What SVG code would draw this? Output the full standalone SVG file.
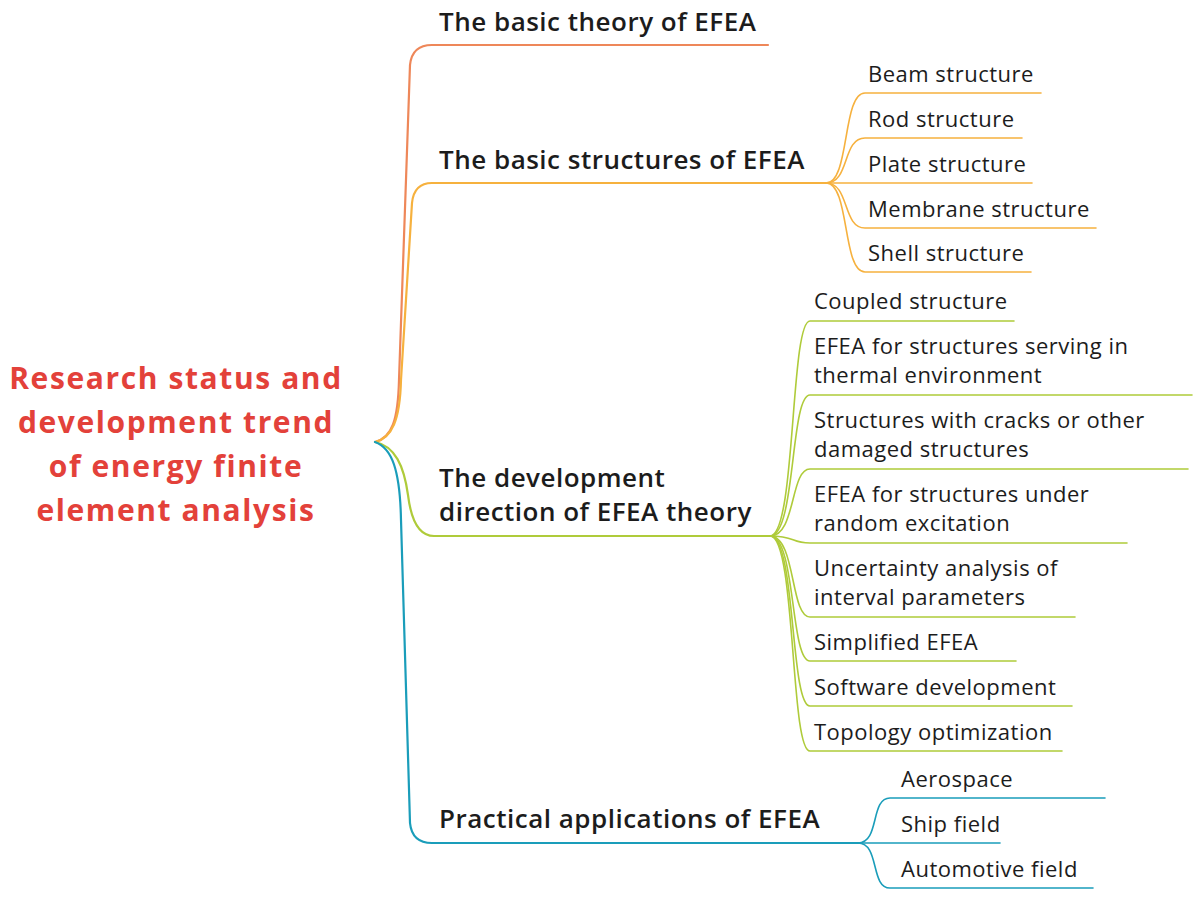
<svg xmlns="http://www.w3.org/2000/svg" width="1200" height="899" viewBox="0 0 1200 899">
<style>
.title{font-family:"Open Sans","Liberation Sans",sans-serif;font-weight:700;font-size:30px;letter-spacing:1.6px;fill:#E3413A;text-anchor:middle}
.main{font-family:"Open Sans","Liberation Sans",sans-serif;font-weight:600;font-size:26px;letter-spacing:0.5px;fill:#1c1c1c}
.sub{font-family:"Open Sans","Liberation Sans",sans-serif;font-weight:400;font-size:22px;letter-spacing:0.5px;fill:#1c1c1c}
path{fill:none;stroke-linecap:round}
.c1{stroke:#EE8759}
.c2{stroke:#F6B13E}
.c3{stroke:#AFCB3A}
.c4{stroke:#1A9DBA}
.m{stroke-width:2.2}
.s{stroke-width:1.6}
</style>
<rect width="1200" height="899" fill="#ffffff"/>
<g id="connectors">
<path class="c1 m" d="M375,442 C392,438 398,420 399,380 L410,65 Q412,45 432,45 L768,45"/>
<path class="c2 m" d="M375,442 C392,438 400,420 401,380 L412,203 Q414,183 432,183 L826,183"/>
<path class="c3 m" d="M375,442 C395,446 404,466 408,495 Q413,536 434,536 L770,536"/>
<path class="c4 m" d="M375,442 C392,448 400,470 401,520 L410,823 Q412,843 432,843 L858,843"/>
<path class="c2 s" d="M826,183 C850,183 842,93 865,93 L1041,93"/>
<path class="c2 s" d="M826,183 C850,183 842,138 865,138 L1022,138"/>
<path class="c2 s" d="M826,183 L1032,183"/>
<path class="c2 s" d="M826,183 C850,183 842,228 865,228 L1096,228"/>
<path class="c2 s" d="M826,183 C850,183 842,272 865,272 L1031,272"/>
<path class="c3 s" d="M770,536 C796,536 790,321 810,321 L1014,321"/>
<path class="c3 s" d="M770,536 C796,536 790,395 810,395 L1192,395"/>
<path class="c3 s" d="M770,536 C796,536 790,469 810,469 L1188,469"/>
<path class="c3 s" d="M770,536 C796,536 790,543 810,543 L1127,543"/>
<path class="c3 s" d="M770,536 C796,536 790,617 810,617 L1075,617"/>
<path class="c3 s" d="M770,536 C796,536 790,661 810,661 L1016,661"/>
<path class="c3 s" d="M770,536 C796,536 790,706 810,706 L1072,706"/>
<path class="c3 s" d="M770,536 C796,536 790,751 810,751 L1062,751"/>
<path class="c4 s" d="M858,843 C880,843 870,798 890,798 L1105,798"/>
<path class="c4 s" d="M858,843 L1000,843"/>
<path class="c4 s" d="M858,843 C880,843 870,888 890,888 L1093,888"/>
</g>
<g id="root">
<text class="title" x="176" y="389">Research status and</text>
<text class="title" x="176" y="433">development trend</text>
<text class="title" x="176" y="477">of energy finite</text>
<text class="title" x="176" y="521">element analysis</text>
</g>
<g id="n-basic-theory"><text class="main" x="439" y="31">The basic theory of EFEA</text></g>
<g id="n-basic-structures"><text class="main" x="439" y="169">The basic structures of EFEA</text></g>
<g id="n-development"><text class="main" x="439" y="487">The development</text><text class="main" x="439" y="521">direction of EFEA theory</text></g>
<g id="n-practical"><text class="main" x="439" y="828">Practical applications of EFEA</text></g>
<g id="n-beam"><text class="sub" x="868" y="82">Beam structure</text></g>
<g id="n-rod"><text class="sub" x="868" y="127">Rod structure</text></g>
<g id="n-plate"><text class="sub" x="868" y="172">Plate structure</text></g>
<g id="n-membrane"><text class="sub" x="868" y="217">Membrane structure</text></g>
<g id="n-shell"><text class="sub" x="868" y="261">Shell structure</text></g>
<g id="n-coupled"><text class="sub" x="814" y="309">Coupled structure</text></g>
<g id="n-thermal"><text class="sub" x="814" y="354">EFEA for structures serving in</text><text class="sub" x="814" y="383">thermal environment</text></g>
<g id="n-cracks"><text class="sub" x="814" y="428">Structures with cracks or other</text><text class="sub" x="814" y="457">damaged structures</text></g>
<g id="n-random"><text class="sub" x="814" y="502">EFEA for structures under</text><text class="sub" x="814" y="531">random excitation</text></g>
<g id="n-uncertainty"><text class="sub" x="814" y="576">Uncertainty analysis of</text><text class="sub" x="814" y="605">interval parameters</text></g>
<g id="n-simplified"><text class="sub" x="814" y="650">Simplified EFEA</text></g>
<g id="n-software"><text class="sub" x="814" y="695">Software development</text></g>
<g id="n-topology"><text class="sub" x="814" y="740">Topology optimization</text></g>
<g id="n-aerospace"><text class="sub" x="901" y="787">Aerospace</text></g>
<g id="n-ship"><text class="sub" x="901" y="832">Ship field</text></g>
<g id="n-automotive"><text class="sub" x="901" y="877">Automotive field</text></g>
</svg>
